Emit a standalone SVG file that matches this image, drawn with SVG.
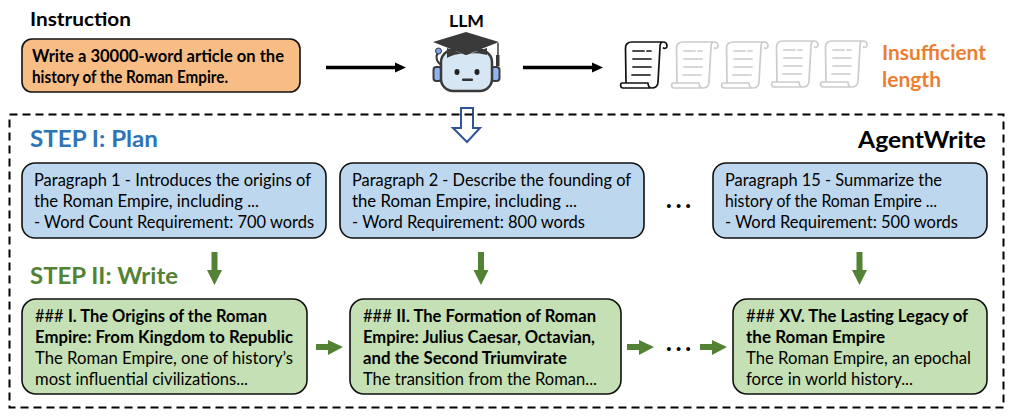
<svg xmlns="http://www.w3.org/2000/svg" width="1011" height="416" viewBox="0 0 1011 416">
<style>
text{font-family:Lato,"Noto Sans","Liberation Sans",sans-serif;fill:#000}
.t{font-size:16.5px}
.b{font-size:16.5px;font-weight:700}
.blue{fill:#bdd7ee;stroke:#111;stroke-width:1.6}
.green{fill:#c5e0b4;stroke:#111;stroke-width:1.6}
.ga{fill:#548235;stroke:none}
.bk{stroke:#000;stroke-width:3.4;fill:none}
.scroll{fill:none;stroke-width:1.7;stroke-linecap:round;stroke-linejoin:round}
.big{font-size:23px;font-weight:700}
.or{fill:#ed7d31;font-size:20px;font-weight:700}
.dots{font-size:24px;font-weight:900}
</style>
<defs>
<path id="ad" d="M-3 252h6v18h4.500l-7.500 15l-7.500-15h4.500Z"/>
<path id="ar" d="M0 344h12v-4l15 7l-15 8v-5h-12Z"/>
<g id="sc">
<path class="scroll" d="M6 42L5.500 7C5.500 3 8 1 12 1H43C46 1 47 3 47 5C47 7 45 8 43.500 7M43 1C41 1 40 3 40 6L38 41C38 45 35 47 32 47C29 47 28 44 28 42H2C0 42 0 47 3 47H30"/>
<path class="scroll" d="M13 10H24M27 10H31M13 18H31M13 26H31M12 34H30"/>
</g>
</defs>

<g id="connectors">
<path class="bk" d="M326 67.500H396"/><path d="M395 62.500L406 67.500L395 72.500Z"/>
<path class="bk" d="M523 67.500H593"/><path d="M592 62.500L603 67.500L592 72.500Z"/>
<path d="M461 108H473V128H480L467 142L453 128H461Z" fill="#fff" stroke="#2f5597" stroke-width="2"/>
<use class="ga" href="#ad" x="214.500"/>
<use class="ga" href="#ad" x="481"/>
<use class="ga" href="#ad" x="859.500"/>
<use class="ga" href="#ar" x="316"/>
<use class="ga" href="#ar" x="627"/>
<use class="ga" href="#ar" x="700"/>
</g>

<g id="frame"><rect x="9.500" y="114.500" width="994" height="293" fill="none" stroke="#000" stroke-width="2" stroke-dasharray="8 5"/></g>

<g id="instruction">
<text x="30" y="26" style="font-size:19px;font-weight:700" textLength="101" lengthAdjust="spacingAndGlyphs">Instruction</text>
<rect x="22" y="39" width="278" height="53" rx="10" fill="#f8bd85" stroke="#111" stroke-width="1.600"/>
<text class="b" x="32" y="61.500" textLength="252" lengthAdjust="spacingAndGlyphs">Write a 30000-word article on the</text>
<text class="b" x="32" y="82.500" textLength="196" lengthAdjust="spacingAndGlyphs">history of the Roman Empire.</text>
</g>

<g id="llm">
<text class="b" x="449" y="27" style="font-size:17px" textLength="35" lengthAdjust="spacingAndGlyphs">LLM</text>
<path d="M443 66C435 62 435 54 440 52" fill="none" stroke="#3a3a3a" stroke-width="2"/>
<rect x="433.500" y="67" width="8" height="14" rx="3" fill="#8fb4ee" stroke="#3a3a3a" stroke-width="2"/>
<rect x="491.500" y="67" width="8" height="14" rx="3" fill="#8fb4ee" stroke="#3a3a3a" stroke-width="2"/>
<rect x="441" y="50" width="51" height="41" rx="12" fill="#d6e6f2" stroke="#3a3a3a" stroke-width="2.500"/>
<circle cx="438.500" cy="51" r="3" fill="#7ba4e8" stroke="#3a3a3a"/>
<path d="M447 48L466 55L487 48V55C476 52 457 52 447 58Z" fill="#3a3a3a"/>
<path d="M433 42L466 32L499 42L466 55Z" fill="#3a3a3a"/>
<path d="M498 43V60" stroke="#3a3a3a" stroke-width="1.500"/><rect x="496" y="55" width="3.500" height="11" fill="#3a3a3a"/>
<ellipse cx="457" cy="72" rx="2.500" ry="3" fill="#222"/><ellipse cx="477" cy="72" rx="2.500" ry="3" fill="#222"/>
<rect x="462" y="78.500" width="11" height="2.500" rx="1" fill="#333"/>
</g>

<g id="output">
<use href="#sc" x="620" y="41" stroke="#111"/>
<use href="#sc" x="671" y="41" stroke="#ccc"/>
<use href="#sc" x="721" y="41" stroke="#ccc"/>
<use href="#sc" x="771" y="40" stroke="#ccc"/>
<use href="#sc" x="820" y="40" stroke="#ccc"/>
<text class="or" x="882" y="60" textLength="104" lengthAdjust="spacingAndGlyphs">Insufficient</text>
<text class="or" x="882" y="87" textLength="59" lengthAdjust="spacingAndGlyphs">length</text>
</g>

<g id="step1"><text class="big" x="30" y="147" style="fill:#2e75b6" textLength="128" lengthAdjust="spacingAndGlyphs">STEP I: Plan</text></g>
<g id="agentwrite"><text class="big" x="858" y="148" textLength="128" lengthAdjust="spacingAndGlyphs">AgentWrite</text></g>
<g id="step2"><text class="big" x="30" y="284" style="fill:#548235" textLength="148" lengthAdjust="spacingAndGlyphs">STEP II: Write</text></g>

<g id="plan1">
<rect class="blue" x="22" y="163" width="304" height="75" rx="13"/>
<text class="t" x="34" y="185.500" textLength="277" lengthAdjust="spacingAndGlyphs">Paragraph 1 - Introduces the origins of</text>
<text class="t" x="34" y="206.500" textLength="225" lengthAdjust="spacingAndGlyphs">the Roman Empire, including ...</text>
<text class="t" x="34" y="227.500" textLength="280" lengthAdjust="spacingAndGlyphs">- Word Count Requirement: 700 words</text>
</g>
<g id="plan2">
<rect class="blue" x="340" y="163" width="304" height="75" rx="13"/>
<text class="t" x="352" y="185.500" textLength="279" lengthAdjust="spacingAndGlyphs">Paragraph 2 - Describe the founding of</text>
<text class="t" x="352" y="206.500" textLength="225" lengthAdjust="spacingAndGlyphs">the Roman Empire, including ...</text>
<text class="t" x="352" y="227.500" textLength="233" lengthAdjust="spacingAndGlyphs">- Word Requirement: 800 words</text>
</g>
<g id="dots1"><text class="dots" x="666" y="208" textLength="25">...</text></g>
<g id="plan3">
<rect class="blue" x="713" y="163" width="274" height="75" rx="13"/>
<text class="t" x="725" y="185.500" textLength="217" lengthAdjust="spacingAndGlyphs">Paragraph 15 - Summarize the</text>
<text class="t" x="725" y="206.500" textLength="212" lengthAdjust="spacingAndGlyphs">history of the Roman Empire ...</text>
<text class="t" x="725" y="227.500" textLength="233" lengthAdjust="spacingAndGlyphs">- Word Requirement: 500 words</text>
</g>

<g id="write1">
<rect class="green" x="22" y="299" width="285" height="95" rx="14"/>
<text class="b" x="35" y="321.500" textLength="232" lengthAdjust="spacingAndGlyphs"><tspan style="font-weight:400">### </tspan>I. The Origins of the Roman</text>
<text class="b" x="35" y="342.500" textLength="258" lengthAdjust="spacingAndGlyphs">Empire: From Kingdom to Republic</text>
<text class="t" x="35" y="363.500" textLength="258" lengthAdjust="spacingAndGlyphs">The Roman Empire, one of history’s</text>
<text class="t" x="35" y="384.500" textLength="213" lengthAdjust="spacingAndGlyphs">most influential civilizations...</text>
</g>
<g id="write2">
<rect class="green" x="350" y="299" width="271" height="95" rx="14"/>
<text class="b" x="363" y="321.500" textLength="233" lengthAdjust="spacingAndGlyphs"><tspan style="font-weight:400">### </tspan>II. The Formation of Roman</text>
<text class="b" x="363" y="342.500" textLength="232" lengthAdjust="spacingAndGlyphs">Empire: Julius Caesar, Octavian,</text>
<text class="b" x="363" y="363.500" textLength="204" lengthAdjust="spacingAndGlyphs">and the Second Triumvirate</text>
<text class="t" x="363" y="384.500" textLength="234" lengthAdjust="spacingAndGlyphs">The transition from the Roman...</text>
</g>
<g id="dots2"><text class="dots" x="666" y="351" textLength="25">...</text></g>
<g id="write3">
<rect class="green" x="733" y="299" width="254" height="95" rx="14"/>
<text class="b" x="746" y="321.500" textLength="222" lengthAdjust="spacingAndGlyphs"><tspan style="font-weight:400">### </tspan>XV. The Lasting Legacy of</text>
<text class="b" x="746" y="342.500" textLength="139" lengthAdjust="spacingAndGlyphs">the Roman Empire</text>
<text class="t" x="746" y="363.500" textLength="225" lengthAdjust="spacingAndGlyphs">The Roman Empire, an epochal</text>
<text class="t" x="746" y="384.500" textLength="167" lengthAdjust="spacingAndGlyphs">force in world history...</text>
</g>
</svg>
